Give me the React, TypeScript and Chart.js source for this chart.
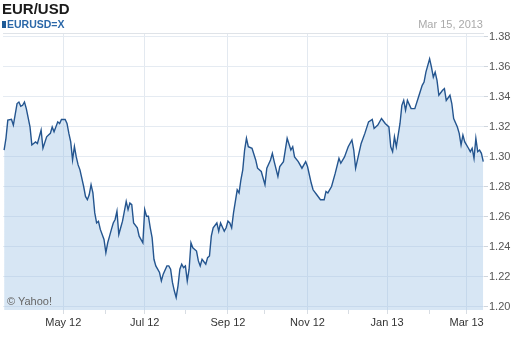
import React, { useEffect, useRef } from 'react';
import { Chart, registerables } from 'chart.js';

Chart.register(...registerables);

// Trading-day index since Mar 15, 2012
const tradingDay = [
  1, 2, 3, 5, 6, 8, 9, 10, 11, 12, 13, 15, 16, 18, 19, 20, 21, 22, 24, 25,
  26, 27, 28, 30, 31, 32, 34, 35, 36, 37, 38, 39, 40, 41, 42, 44, 45, 46, 47, 48,
  49, 50, 51, 52, 53, 55, 56, 57, 58, 59, 60, 61, 62, 63, 64, 65, 67, 68, 69, 70,
  71, 73, 74, 76, 77, 78, 79, 80, 81, 82, 83, 84, 85, 86, 87, 89, 90, 91, 92, 93,
  94, 95, 96, 97, 98, 99, 100, 101, 102, 103, 105, 106, 107, 108, 110, 111, 112, 113, 114, 116,
  117, 118, 120, 121, 122, 123, 124, 125, 127, 128, 129, 130, 131, 132, 133, 135, 137, 138, 140, 142,
  143, 145, 146, 147, 149, 150, 152, 154, 156, 157, 158, 160, 162, 164, 165, 167, 168, 170, 172, 174,
  175, 176, 178, 180, 182, 183, 185, 187, 189, 190, 191, 192, 194, 196, 198, 200, 201, 203, 205, 207,
  209, 210, 211, 212, 213, 215, 216, 217, 218, 219, 221, 223, 225, 227, 228, 229, 231, 232, 233, 234,
  235, 236, 238, 239, 240, 242, 243, 244, 246, 247, 248, 249, 250, 252, 253, 254, 255, 256, 257, 258,
  259, 260,
];

const eurUsd = [
  1.3046, 1.3124, 1.3245, 1.325, 1.3212, 1.3356, 1.3366, 1.3338, 1.3344, 1.3366, 1.3322, 1.32, 1.308, 1.31, 1.309, 1.3134, 1.3179, 1.3058, 1.3134, 1.3146,
  1.3157, 1.32, 1.3168, 1.3234, 1.3223, 1.325, 1.325, 1.3223, 1.3157, 1.31, 1.298, 1.307, 1.3, 1.2947, 1.2914, 1.2803, 1.2737, 1.2715, 1.2748, 1.2815,
  1.276, 1.2627, 1.256, 1.2571, 1.2517, 1.245, 1.2362, 1.2428, 1.2472, 1.2517, 1.256, 1.2583, 1.2638, 1.2483, 1.2528, 1.2572, 1.2704, 1.2649, 1.2693, 1.2682,
  1.256, 1.2528, 1.2472, 1.2428, 1.2649, 1.2605, 1.2605, 1.2528, 1.2462, 1.2318, 1.2274, 1.2252, 1.223, 1.2174, 1.2219, 1.2274, 1.2274, 1.2252, 1.2164, 1.2108,
  1.2064, 1.2141, 1.2252, 1.2285, 1.2263, 1.2274, 1.2174, 1.2252, 1.2428, 1.2395, 1.2373, 1.2307, 1.2274, 1.2318, 1.2285, 1.2329, 1.234, 1.2472, 1.2528, 1.256,
  1.2505, 1.256, 1.2505, 1.2528, 1.2572, 1.256, 1.2528, 1.2627, 1.2781, 1.276, 1.2848, 1.2914, 1.3046, 1.3124, 1.3068, 1.3058, 1.298, 1.2925, 1.2903, 1.2815,
  1.2925, 1.298, 1.3024, 1.2969, 1.287, 1.2936, 1.2969, 1.3124, 1.3046, 1.3068, 1.3, 1.2969, 1.2925, 1.2969, 1.2936, 1.2826, 1.2781, 1.2748, 1.2715, 1.2715,
  1.277, 1.276, 1.2803, 1.2892, 1.2991, 1.2958, 1.3, 1.3068, 1.3113, 1.3046, 1.2925, 1.298, 1.309, 1.3157, 1.3234, 1.325, 1.319, 1.3212, 1.3256, 1.3223,
  1.32, 1.3068, 1.3035, 1.3134, 1.3068, 1.3223, 1.3344, 1.3377, 1.3311, 1.3377, 1.3322, 1.3322, 1.34, 1.3477, 1.3499, 1.3565, 1.3654, 1.3598, 1.3532, 1.3565,
  1.351, 1.3411, 1.3444, 1.3455, 1.3377, 1.3411, 1.3356, 1.3256, 1.32, 1.3157, 1.308, 1.3146, 1.31, 1.3058, 1.3035, 1.3058, 1.2991, 1.3124, 1.3035, 1.3046,
  1.3024, 1.2969,
];

// Month starts (trading-day index) and their labels
const monthTicks = [33, 56, 77, 99, 122, 142, 165, 187, 208, 231, 251];
const monthLabels = ['May 12', '', 'Jul 12', '', 'Sep 12', '', 'Nov 12', '', 'Jan 13', '', 'Mar 13'];

const yTicks = [1.2, 1.22, 1.24, 1.26, 1.28, 1.3, 1.32, 1.34, 1.36, 1.38];

const FONT = "'Liberation Sans', Arial, sans-serif";

export default function App() {
  const ref = useRef<HTMLCanvasElement | null>(null);

  useEffect(() => {
    if (!ref.current) return;
    const topBorder = {
      id: 'topBorder',
      beforeDatasetsDraw(chart: any) {
        const { ctx, chartArea } = chart;
        ctx.save();
        ctx.strokeStyle = '#dfe3e8';
        ctx.lineWidth = 1;
        ctx.beginPath();
        ctx.moveTo(chartArea.left, chartArea.top + 0.5);
        ctx.lineTo(chartArea.right, chartArea.top + 0.5);
        ctx.stroke();
        ctx.restore();
      },
    };
    const chart = new Chart(ref.current, {
      type: 'line',
      data: {
        datasets: [
          {
            label: 'EURUSD=X',
            data: tradingDay.map((t, i) => ({ x: t, y: eurUsd[i] })),
            borderColor: '#24558f',
            borderWidth: 1.4,
            backgroundColor: 'rgba(150, 190, 225, 0.38)',
            fill: 'start',
            pointRadius: 0,
            tension: 0,
          },
        ],
      },
      options: {
        responsive: false,
        animation: false,
        layout: { padding: { top: 33, left: 3, right: 0, bottom: 0 } },
        plugins: { legend: { display: false }, tooltip: { enabled: false } },
        scales: {
          x: {
            type: 'linear',
            min: 0.4,
            max: 260.4,
            afterBuildTicks: (s: any) => {
              s.ticks = monthTicks.map((v) => ({ value: v }));
            },
            afterFit: (s: any) => {
              s.height = 31;
            },
            ticks: {
              autoSkip: false,
              maxRotation: 0,
              padding: 2,
              color: '#333',
              font: { family: FONT, size: 11 },
              callback: (_v: any, i: number) => monthLabels[i],
            },
            grid: {
              color: (ctx: any) => (monthLabels[ctx.index] ? '#e3e9f0' : 'rgba(0,0,0,0)'),
              tickColor: '#d8dde3',
              tickLength: 4,
            },
            border: { display: false },
          },
          y: {
            position: 'right',
            min: 1.198,
            max: 1.3826,
            afterBuildTicks: (s: any) => {
              s.ticks = yTicks.map((v) => ({ value: v }));
            },
            afterFit: (s: any) => {
              s.width = 28;
            },
            ticks: {
              padding: 1,
              color: '#555',
              font: { family: FONT, size: 11 },
              callback: (v: any) => Number(v).toFixed(2),
            },
            grid: {
              color: '#e5ebf2',
              tickColor: '#cfd5dc',
              tickLength: 4,
            },
            border: { display: false },
          },
        },
      },
      plugins: [topBorder],
    });
    return () => chart.destroy();
  }, []);

  return (
    <div style={{ position: 'absolute', left: 0, top: 0, width: 512, height: 341, background: '#fff', fontFamily: FONT }}>
      <canvas ref={ref} width={512} height={341} style={{ position: 'absolute', left: 0, top: 0 }} />
      <div style={{ position: 'absolute', left: 2, top: 1, fontSize: 15, lineHeight: '15px', fontWeight: 'bold', color: '#1a1a1a' }}>
        EUR/USD
      </div>
      <div style={{ position: 'absolute', left: 2, top: 21, width: 4, height: 7, background: '#1d5a96' }} />
      <div style={{ position: 'absolute', left: 7, top: 19, fontSize: 10.5, lineHeight: '11px', fontWeight: 'bold', color: '#2a67a8' }}>
        EURUSD=X
      </div>
      <div style={{ position: 'absolute', right: 29, top: 19, fontSize: 11, lineHeight: '11px', color: '#aaaaaa' }}>
        Mar 15, 2013
      </div>
      <div style={{ position: 'absolute', left: 7, top: 296, fontSize: 11, lineHeight: '11px', color: '#666' }}>
        © Yahoo!
      </div>
    </div>
  );
}
